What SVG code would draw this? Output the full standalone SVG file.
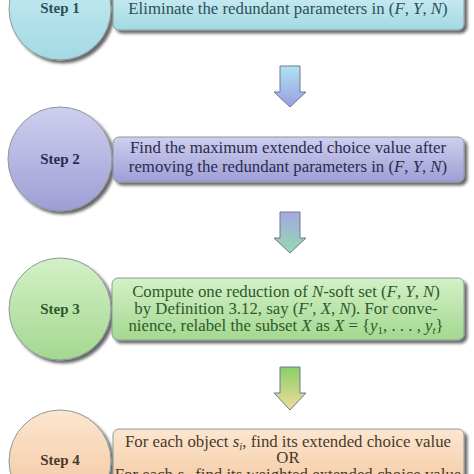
<svg xmlns="http://www.w3.org/2000/svg" width="474" height="474" viewBox="0 0 474 474">
<defs>
<filter id="sh" x="-20%" y="-20%" width="140%" height="150%">
<feGaussianBlur in="SourceAlpha" stdDeviation="1.5"/>
<feOffset dx="3" dy="3" result="b"/>
<feComponentTransfer><feFuncA type="linear" slope="0.6"/></feComponentTransfer>
<feMerge><feMergeNode/><feMergeNode in="SourceGraphic"/></feMerge>
</filter>
<linearGradient id="g1" x1="0" y1="0" x2="0" y2="1"><stop offset="0" stop-color="#cdeef3"/><stop offset="1" stop-color="#a3d9e4"/></linearGradient>
<linearGradient id="g2" x1="0" y1="0" x2="0" y2="1"><stop offset="0" stop-color="#cfcfee"/><stop offset="1" stop-color="#9e9ed6"/></linearGradient>
<linearGradient id="g3" x1="0" y1="0" x2="0" y2="1"><stop offset="0" stop-color="#d4f0c8"/><stop offset="1" stop-color="#a4d890"/></linearGradient>
<linearGradient id="g4" x1="0" y1="0" x2="0" y2="1"><stop offset="0" stop-color="#fce6d0"/><stop offset="1" stop-color="#f2c49a"/></linearGradient>
<linearGradient id="a1" x1="0" y1="0" x2="0" y2="1"><stop offset="0" stop-color="#aee2f2"/><stop offset="1" stop-color="#9a9ee0"/></linearGradient>
<linearGradient id="a2" x1="0" y1="0" x2="0" y2="1"><stop offset="0" stop-color="#a4a8e2"/><stop offset="1" stop-color="#94dab0"/></linearGradient>
<linearGradient id="a3" x1="0" y1="0" x2="0" y2="1"><stop offset="0" stop-color="#88d068"/><stop offset="1" stop-color="#f0dc98"/></linearGradient>
</defs>
<style>
.c{stroke:#8a9a9c;stroke-width:1;filter:url(#sh)}
.b{stroke:#8a9a9c;stroke-width:1;filter:url(#sh)}
.t{font-family:"Liberation Serif","Times New Roman",serif;font-size:16.8px;text-anchor:middle}
.s{font-family:"Liberation Serif","Times New Roman",serif;font-size:15px;text-anchor:middle;font-weight:bold}
.ar{stroke:#6a7a90;stroke-width:1}
.i{font-style:italic}
</style>
<rect width="474" height="474" fill="#ffffff"/>
<g id="connectors">
<path class="ar" fill="url(#a1)" d="M280,66 H300 V92 H306 L290,107 L274,92 H280 Z"/>
<path class="ar" fill="url(#a2)" d="M280,212 H300 V238 H306 L290,253 L274,238 H280 Z"/>
<path class="ar" fill="url(#a3)" d="M280,367 H300 V393 H306 L290,410 L274,393 H280 Z"/>
</g>
<g id="step1">
<circle class="c" cx="60" cy="9" r="51" fill="url(#g1)"/>
<rect class="b" x="113" y="-10" width="351" height="40" rx="6" fill="url(#g1)"/>
<text class="s" x="60" y="13" fill="#2f5058">Step 1</text>
<text class="t" x="288" y="14" fill="#2f5058">Eliminate the redundant parameters in (<tspan class="i">F</tspan>, <tspan class="i">Y</tspan>, <tspan class="i">N</tspan>)</text>
</g>
<g id="step2">
<circle class="c" cx="60" cy="159" r="52" fill="url(#g2)"/>
<rect class="b" x="113" y="137" width="351" height="45" rx="6" fill="url(#g2)"/>
<text class="s" x="60" y="164" fill="#2a2a52">Step 2</text>
<text class="t" x="288" y="153" fill="#2a2a52">Find the maximum extended choice value after</text>
<text class="t" x="288" y="172" fill="#2a2a52">removing the redundant parameters in (<tspan class="i">F</tspan>, <tspan class="i">Y</tspan>, <tspan class="i">N</tspan>)</text>
</g>
<g id="step3">
<circle class="c" cx="60" cy="309" r="51" fill="url(#g3)"/>
<rect class="b" x="112" y="278" width="352" height="62" rx="6" fill="url(#g3)"/>
<text class="s" x="60" y="314" fill="#2e5a2a">Step 3</text>
<text class="t" x="286" y="297" fill="#2e5a2a">Compute one reduction of <tspan class="i">N</tspan>-soft set (<tspan class="i">F</tspan>, <tspan class="i">Y</tspan>, <tspan class="i">N</tspan>)</text>
<text class="t" x="286" y="314" fill="#2e5a2a">by Definition 3.12, say (<tspan class="i">F′</tspan>, <tspan class="i">X</tspan>, <tspan class="i">N</tspan>). For conve-</text>
<text class="t" x="286" y="331" fill="#2e5a2a">nience, relabel the subset <tspan class="i">X</tspan> as <tspan class="i">X</tspan> = {<tspan class="i">y</tspan><tspan font-size="11" dy="3">1</tspan><tspan dy="-3">, . . . , </tspan><tspan class="i">y</tspan><tspan class="i" font-size="11" dy="3">t</tspan><tspan dy="-3">}</tspan></text>
</g>
<g id="step4">
<circle class="c" cx="60" cy="461" r="51" fill="url(#g4)"/>
<rect class="b" x="113" y="429" width="351" height="70" rx="6" fill="url(#g4)"/>
<text class="s" x="60" y="465" fill="#4a3a2c">Step 4</text>
<text class="t" x="288" y="447" fill="#4a3a2c">For each object <tspan class="i">s</tspan><tspan class="i" font-size="11" dy="3">i</tspan><tspan dy="-3">, find its extended choice value</tspan></text>
<text class="t" x="288" y="463" fill="#4a3a2c">OR</text>
<text class="t" x="288" y="480" fill="#4a3a2c">For each <tspan class="i">s</tspan><tspan class="i" font-size="11" dy="3">i</tspan><tspan dy="-3">, find its weighted extended choice value</tspan></text>
</g>
</svg>
